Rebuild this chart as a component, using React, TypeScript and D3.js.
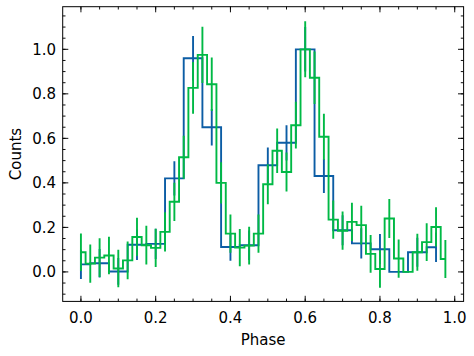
import React from 'react';
import * as d3 from 'd3';

const W = 474;
const H = 356;

const phaseBlue = [0, 0.05, 0.1, 0.15, 0.2, 0.25, 0.3, 0.35, 0.4, 0.45, 0.5, 0.55, 0.6, 0.65, 0.7, 0.75, 0.8, 0.85, 0.9, 0.95];
const countsBlue = [0.034, 0.039, 0.002, 0.122, 0.126, 0.42, 0.96, 0.65, 0.112, 0.12, 0.479, 0.58, 1.0, 0.431, 0.187, 0.128, 0.102, 0.0, 0.088, 0.111];
const errBlue = [0.066, 0.064, 0.06, 0.069, 0.068, 0.077, 0.1, 0.082, 0.062, 0.066, 0.08, 0.079, 0.1, 0.076, 0.067, 0.068, 0.068, 0.0, 0.065, 0.066];

const phaseGreen = [0, 0.025, 0.05, 0.075, 0.1, 0.125, 0.15, 0.175, 0.2, 0.225, 0.25, 0.275, 0.3, 0.325, 0.35, 0.375, 0.4, 0.425, 0.45, 0.475, 0.5, 0.525, 0.55, 0.575, 0.6, 0.625, 0.65, 0.675, 0.7, 0.725, 0.75, 0.775, 0.8, 0.825, 0.85, 0.875, 0.9, 0.925, 0.95, 0.975];
const countsGreen = [0.088, 0.037, 0.064, 0.074, 0.015, 0.052, 0.157, 0.12, 0.108, 0.18, 0.315, 0.515, 0.827, 0.975, 0.843, 0.4, 0.172, 0.109, 0.118, 0.172, 0.394, 0.544, 0.449, 0.659, 1.0, 0.872, 0.607, 0.235, 0.185, 0.225, 0.21, 0.081, 0.013, 0.24, 0.06, 0.0, 0.088, 0.134, 0.202, 0.058];
const errGreen = [0.084, 0.086, 0.087, 0.084, 0.084, 0.085, 0.086, 0.087, 0.086, 0.088, 0.086, 0.097, 0.116, 0.126, 0.12, 0.093, 0.086, 0.084, 0.085, 0.086, 0.09, 0.1, 0.088, 0.105, 0.126, 0.118, 0.103, 0.086, 0.086, 0.086, 0.087, 0.085, 0.084, 0.088, 0.086, 0.0, 0.083, 0.085, 0.088, 0.085];

const xTicks = [0, 0.2, 0.4, 0.6, 0.8, 1.0];
const yTicks = [0, 0.2, 0.4, 0.6, 0.8, 1.0];
const xDomain = [-0.04875, 1.02375];
const yDomain = [-0.1325, 1.1915];

const BLUE = '#0C5DA5';
const GREEN = '#00B945';
const FONT = '"DejaVu Sans", sans-serif';

export default function App() {
  const L = 62.7, R = 463.6, T = 6.7, B = 301.4;
  const x = d3.scaleLinear().domain(xDomain).range([L, R]);
  const y = d3.scaleLinear().domain(yDomain).range([B, T]);
  const fmt = d3.format('.1f');

  const line = d3.line<[number, number]>().x(d => x(d[0])).y(d => y(d[1])).curve(d3.curveStep);

  const xMinor = d3.range(0, 1.0001, 0.05).filter(v => v >= xDomain[0] && v <= xDomain[1]);
  const yMinor = d3.range(-0.1, 1.1501, 0.05).filter(v => v >= yDomain[0] && v <= yDomain[1]);

  const series = [
    { px: phaseBlue, cy: countsBlue, err: errBlue, color: BLUE },
    { px: phaseGreen, cy: countsGreen, err: errGreen, color: GREEN },
  ];

  const majLen = 5.6, minLen = 2.8;

  return (
    <svg width={W} height={H} style={{ position: 'absolute', left: 0, top: 0, background: '#fff' }}>
      <rect x={0} y={0} width={W} height={H} fill="#fff" />
      <defs>
        <clipPath id="plot"><rect x={L} y={T} width={R - L} height={B - T} /></clipPath>
      </defs>
      <g clipPath="url(#plot)">
        {series.map((s, si) => (
          <g key={si}>
            <path d={line(s.px.map((p, i) => [p, s.cy[i]] as [number, number])) || ''} fill="none" stroke={s.color} strokeWidth={1.9} />
            {s.px.map((p, i) => s.err[i] > 0 ? (
              <line key={i} x1={x(p)} x2={x(p)} y1={y(s.cy[i] - s.err[i])} y2={y(s.cy[i] + s.err[i])} stroke={s.color} strokeWidth={1.9} />
            ) : null)}
          </g>
        ))}
      </g>
      <g stroke="#000" strokeWidth={0.95}>
        {xMinor.map((v, i) => (
          <g key={'xm' + i}>
            <line x1={x(v)} x2={x(v)} y1={B} y2={B - minLen} />
            <line x1={x(v)} x2={x(v)} y1={T} y2={T + minLen} />
          </g>
        ))}
        {xTicks.map((v, i) => (
          <g key={'xM' + i}>
            <line x1={x(v)} x2={x(v)} y1={B} y2={B - majLen} />
            <line x1={x(v)} x2={x(v)} y1={T} y2={T + majLen} />
          </g>
        ))}
        {yMinor.map((v, i) => (
          <g key={'ym' + i}>
            <line x1={L} x2={L + minLen} y1={y(v)} y2={y(v)} />
            <line x1={R} x2={R - minLen} y1={y(v)} y2={y(v)} />
          </g>
        ))}
        {yTicks.map((v, i) => (
          <g key={'yM' + i}>
            <line x1={L} x2={L + majLen} y1={y(v)} y2={y(v)} />
            <line x1={R} x2={R - majLen} y1={y(v)} y2={y(v)} />
          </g>
        ))}
      </g>
      <rect x={L} y={T} width={R - L} height={B - T} fill="none" stroke="#000" strokeWidth={1} />
      <g fontFamily={FONT} fontSize={15} fill="#000">
        {xTicks.map((v, i) => (
          <text key={'xl' + i} x={x(v)} y={322.7} textAnchor="middle">{fmt(v)}</text>
        ))}
        {yTicks.map((v, i) => (
          <text key={'yl' + i} x={56} y={y(v) + 5.4} textAnchor="end">{fmt(v)}</text>
        ))}
        <text x={(L + R) / 2} y={345} textAnchor="middle">Phase</text>
        <text transform={`translate(20.5, ${(T + B) / 2}) rotate(-90)`} textAnchor="middle">Counts</text>
      </g>
    </svg>
  );
}
